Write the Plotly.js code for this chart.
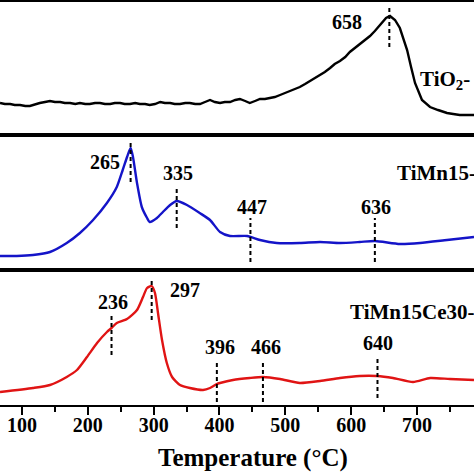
<!DOCTYPE html>
<html>
<head>
<meta charset="utf-8">
<script src="https://cdn.plot.ly/plotly-3.0.1.min.js"></script>
<style>
  html, body { margin: 0; padding: 0; background: #fff; }
  #chart { width: 474px; height: 474px; }
</style>
</head>
<body>
<div id="chart"></div>
<script>
// H2-TPR profiles (intensity in a.u., stacked panels)
const tio2Temp = [66.6, 74, 82, 89, 97, 105, 112, 120, 127, 135, 142.5, 150, 158, 165, 173, 181, 188, 196, 203, 211, 218.5, 226, 234, 241, 249, 256, 264, 272, 279, 287, 294, 302, 310, 317, 325, 332, 340, 348, 355, 363, 370.4, 378, 385.6, 393, 400.8, 408, 416, 424, 431, 439, 446, 454, 461.5, 469, 476.7, 484, 492, 500, 507, 515, 522, 530, 537.5, 545, 552.7, 560, 568, 575, 583, 591, 598, 606, 613, 621, 628.6, 636, 643.8, 653, 659, 666.6, 674, 685, 691, 697, 707.6, 719.8, 732, 745.6, 755, 765, 776, 786.6];
const tio2Int  = [32, 31, 31, 30, 30, 29, 29, 31, 32, 33, 34, 33, 33, 32, 32, 31, 32, 31, 31, 32, 32, 31, 31, 32, 32, 31, 31, 32, 31, 31, 30, 31, 33, 32, 32, 31, 31, 32, 32, 31, 31, 33, 35, 33, 32, 33, 33, 35, 36, 34, 32, 34, 36, 36, 37, 38, 40, 42, 44, 46, 48, 51, 54, 57, 60, 63, 67, 71, 74, 78, 83, 87, 91, 95, 99, 104, 110, 117, 119, 115, 107, 85, 68, 52, 35, 28, 25, 22, 21, 20, 20, 20];

const mnTemp = [66.6, 92, 116.7, 142.5, 168, 188, 208, 229, 244, 253, 259.6, 265, 268.6, 274.7, 282, 290, 294, 305, 314, 325, 335, 350.6, 370, 385.6, 400.8, 416, 442, 461.5, 487, 522, 552.7, 583, 613, 636, 674, 704.6, 745.6, 786.6];
const mnInt  = [14, 14, 15, 18, 27, 37, 50, 67, 83, 100, 113, 122, 113, 87, 63, 52, 48, 52, 58, 65, 69, 65, 57, 50, 38, 34, 34, 30, 27, 27, 28, 27, 28, 29, 26, 27, 30, 33];

const ceTemp = [66.6, 116.7, 142.5, 168, 183.5, 198.7, 214, 229, 236, 244, 259.5, 274.7, 283.8, 290, 297, 302, 306.6, 312.7, 320, 328, 340, 355, 375, 385.6, 396, 400.8, 420.5, 446, 466, 492, 522, 552.7, 583, 613, 639, 663.5, 694, 720, 750, 786.6];
const ceInt  = [13, 17, 20, 28, 35, 48, 62, 73, 77, 82, 86, 95, 108, 117, 119, 112, 92, 65, 42, 28, 20, 17, 15, 17, 21, 22, 25, 27, 28, 26, 22, 24, 27, 29, 29, 27, 23, 27, 26, 25];

// Peak temperatures marked in each profile
const tio2Peaks = [658];
const mnPeaks = [265, 335, 447, 636];
const cePeaks = [236, 297, 396, 466, 640];

// Sample names and axis title
const sampleNames = ['TiO<sub>2</sub>-', 'TiMn15-', 'TiMn15Ce30-'];
const xTitle = 'Temperature (°C)';

// X axis ticks
const tickVals = [100, 200, 300, 400, 500, 600, 700, 800];

const serif = 'Liberation Serif, Times New Roman, serif';
const colors = { tio2: '#000000', mn: '#1414c8', ce: '#e01414' };

const traces = [
  { x: ceTemp, y: ceInt, xaxis: 'x', yaxis: 'y', mode: 'lines',
    line: { color: colors.ce, width: 2.4, shape: 'spline', smoothing: 0.6 }, hoverinfo: 'skip' },
  { x: mnTemp, y: mnInt, xaxis: 'x2', yaxis: 'y2', mode: 'lines',
    line: { color: colors.mn, width: 2.4, shape: 'spline', smoothing: 0.6 }, hoverinfo: 'skip' },
  { x: tio2Temp, y: tio2Int, xaxis: 'x3', yaxis: 'y3', mode: 'lines',
    line: { color: colors.tio2, width: 2.4 }, hoverinfo: 'skip' }
];

// Vertical extent of each dashed peak marker and label placement, per panel
const markerSpans = {
  y3: [[88, 130]],
  y2: [[88, 128], [42, 82], [8, 52], [8, 52]],
  y:  [[50, 92], [85, 125], [3, 43], [3, 45], [7, 48]]
};
const labelSpots = {
  y3: [[593.7, 113]],
  y2: [[226, 108], [337, 97], [449, 63], [637.7, 63]],
  y:  [[238, 103], [347.6, 115], [400.8, 58], [470.6, 58], [640.8, 62]]
};

const shapes = [];
const annotations = [];
function addMarkers(peaks, yref, xref) {
  peaks.forEach((t, i) => {
    const span = markerSpans[yref][i];
    shapes.push({ type: 'line', xref: xref, yref: yref, x0: t, x1: t, y0: span[0], y1: span[1],
      line: { color: '#000', width: 2, dash: '4px,3px' } });
    const spot = labelSpots[yref][i];
    annotations.push({ xref: xref, yref: yref, x: spot[0], y: spot[1], text: String(t),
      showarrow: false, xanchor: 'center', yanchor: 'middle',
      font: { family: serif, size: 20, color: '#000', weight: 'bold' } });
  });
}
addMarkers(cePeaks, 'y', 'x');
addMarkers(mnPeaks, 'y2', 'x2');
addMarkers(tio2Peaks, 'y3', 'x3');

const nameSpots = [['x3', 'y3', 701.5, 55], ['x2', 'y2', 666.6, 97], ['x', 'y', 595, 93]];
nameSpots.forEach((s, i) => {
  annotations.push({ xref: s[0], yref: s[1], x: s[2], y: s[3], text: sampleNames[i],
    showarrow: false, xanchor: 'left', yanchor: 'middle',
    font: { family: serif, size: 21, color: '#000', weight: 'bold' } });
});

// Axis title, centred under the full figure width
annotations.push({ xref: 'paper', yref: 'paper', x: 253 / 474, y: -53 / 403, text: xTitle,
  showarrow: false, xanchor: 'center', yanchor: 'middle',
  font: { family: serif, size: 25, color: '#000', weight: 'bold' } });

const xRange = [66.6, 786.6];
const baseX = {
  range: xRange, showline: true, mirror: true, linecolor: '#000', linewidth: 2,
  showgrid: false, zeroline: false, fixedrange: true
};
const baseY = {
  showline: false, showgrid: false, zeroline: false, showticklabels: false, ticks: '', fixedrange: true
};

const layout = {
  width: 474, height: 474,
  margin: { l: 0, r: 0, t: 2, b: 69 },
  paper_bgcolor: '#fff', plot_bgcolor: '#fff',
  showlegend: false,
  xaxis: Object.assign({}, baseX, {
    anchor: 'y', ticks: 'outside', ticklen: 8, tickwidth: 2, tickcolor: '#000',
    tickvals: tickVals, ticktext: tickVals.map(String),
    ticklabelstandoff: -7,
    minor: { dtick: 50, tick0: 0, ticks: 'outside', ticklen: 5, tickwidth: 2, tickcolor: '#000' },
    tickfont: { family: serif, size: 20, color: '#000', weight: 'bold' }
  }),
  xaxis2: Object.assign({}, baseX, { anchor: 'y2', showticklabels: false, ticks: '' }),
  xaxis3: Object.assign({}, baseX, { anchor: 'y3', showticklabels: false, ticks: '' }),
  yaxis:  Object.assign({}, baseY, { domain: [0, 135 / 403], range: [0, 135] }),
  yaxis2: Object.assign({}, baseY, { domain: [135 / 403, 270 / 403], range: [0, 135] }),
  yaxis3: Object.assign({}, baseY, { domain: [270 / 403, 1], range: [0, 133] }),
  shapes: shapes,
  annotations: annotations
};

Plotly.newPlot('chart', traces, layout, { staticPlot: true, displayModeBar: false });
</script>
</body>
</html>
